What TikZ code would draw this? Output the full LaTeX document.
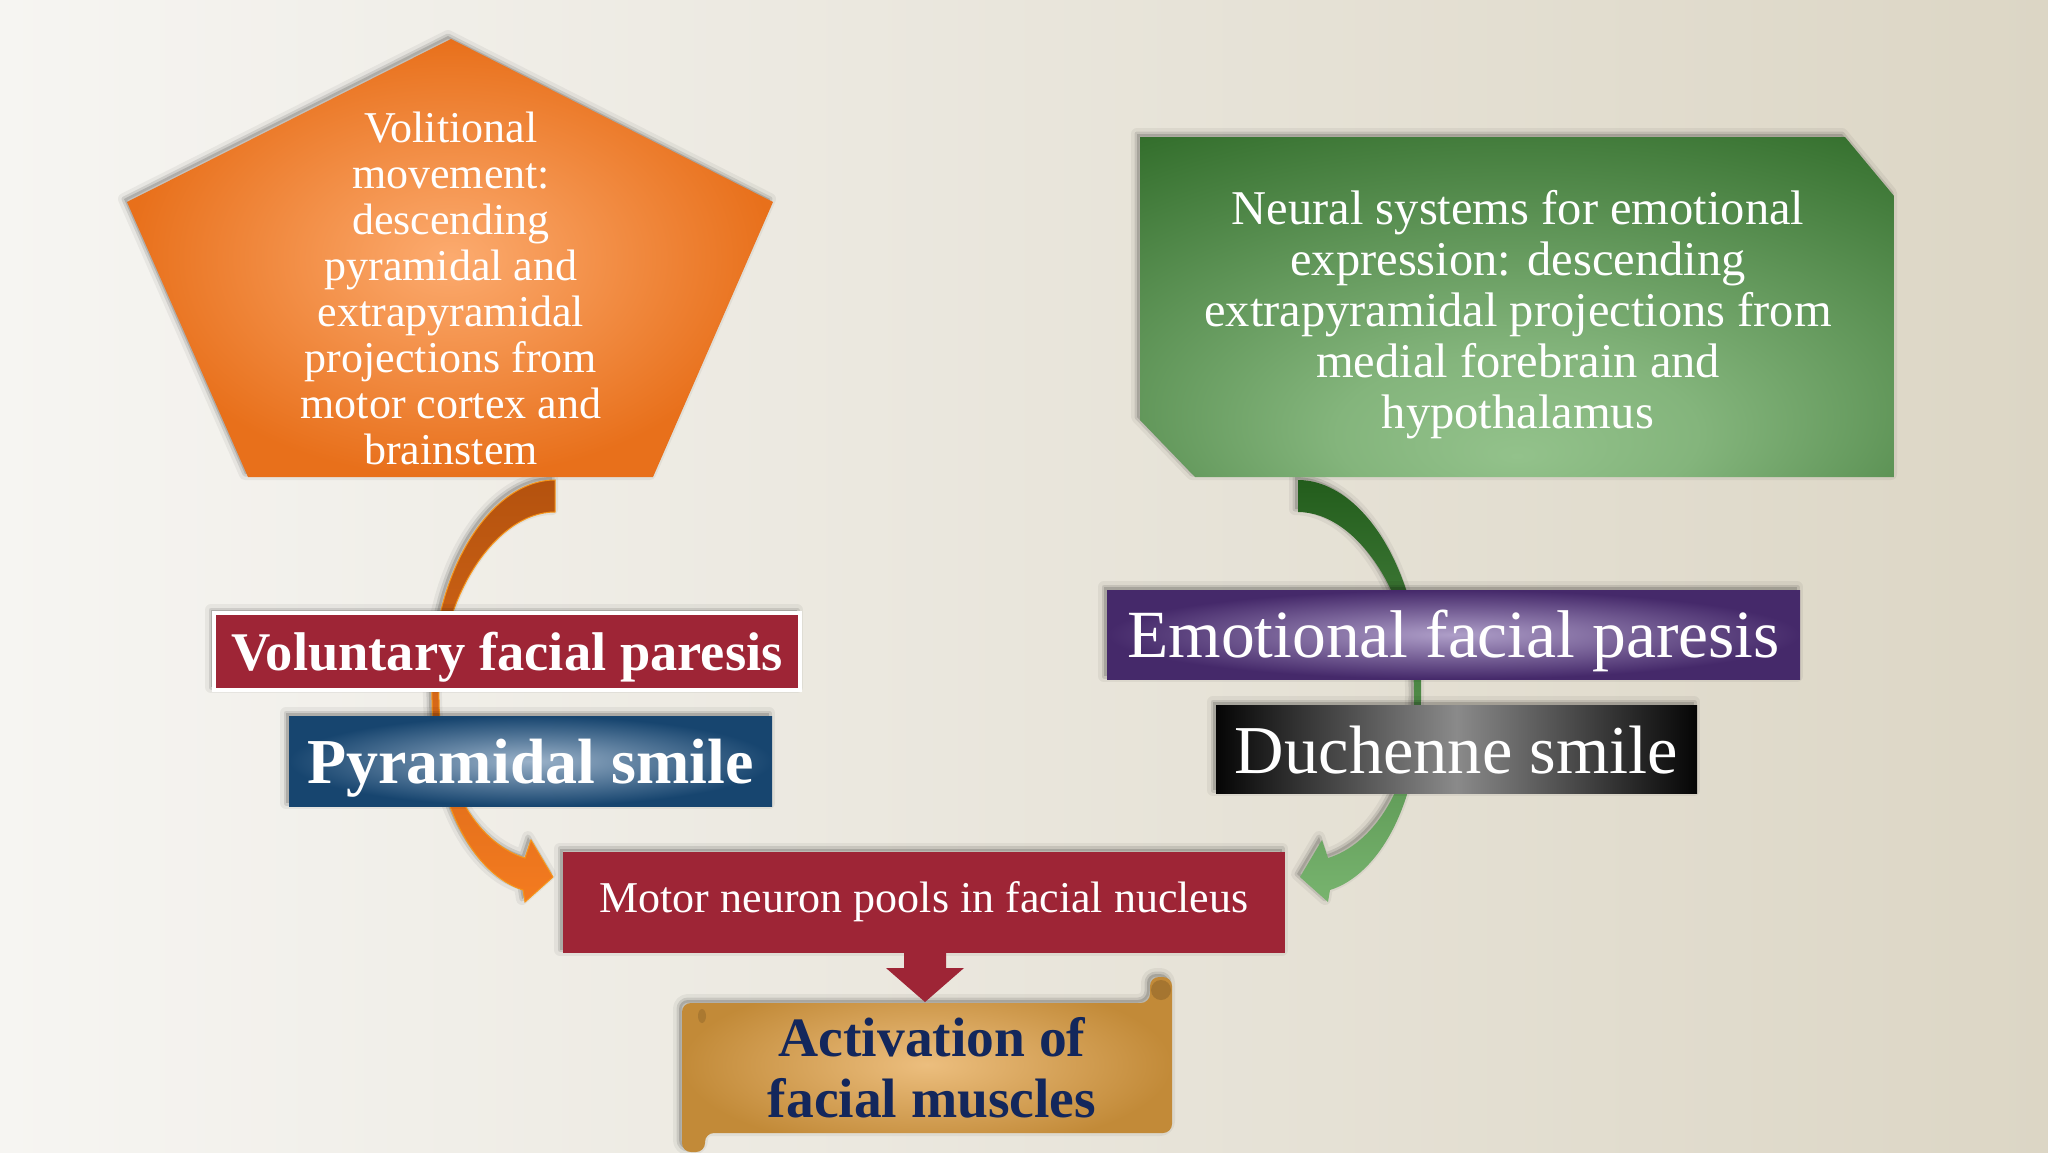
\documentclass[tikz,border=0pt]{standalone}
\usepackage{fontspec}
\setmainfont{Liberation Serif}

\definecolor{bgleft}{HTML}{F6F5F2}
\definecolor{bgright}{HTML}{DCD6C5}
\definecolor{orin}{HTML}{FCAB6F}
\definecolor{orout}{HTML}{E8701B}
\definecolor{grlight}{HTML}{93C28B}
\definecolor{grdark}{HTML}{2E6A27}
\definecolor{wine}{HTML}{9E2536}
\definecolor{blin}{HTML}{9BB2C9}
\definecolor{blout}{HTML}{17456F}
\definecolor{puin}{HTML}{AE9EC8}
\definecolor{puout}{HTML}{45296A}
\definecolor{bkin}{HTML}{8A8A8A}
\definecolor{bkout}{HTML}{050505}
\definecolor{goin}{HTML}{ECBE7E}
\definecolor{goout}{HTML}{C28A38}
\definecolor{navy}{HTML}{13275C}
\definecolor{artop}{HTML}{B4520E}
\definecolor{arbot}{HTML}{F47B20}
\definecolor{agtop}{HTML}{235D1C}
\definecolor{agbot}{HTML}{78B46F}

\pgfdeclareradialshading{greenshade}{\pgfpoint{0bp}{-22bp}}{color(0bp)=(grlight); color(12bp)=(grlight!85!grdark); color(45bp)=(grdark); color(80bp)=(grdark)}

\newcommand{\lowertext}[2]{\raisebox{-#1}[\height][\depth]{#2}}

\tikzset{
  softshadow/.style={
    preaction={fill=black, draw=black, line width=12pt, line join=round, opacity=0.05,
      transform canvas={shift={(-3pt,3pt)}}},
    preaction={fill=black, draw=black, line width=5pt, line join=round, opacity=0.10,
      transform canvas={shift={(-3pt,3pt)}}}},
  wtext/.style={text=white, align=center, inner sep=0pt},
  boxnode/.style={rectangle, inner sep=0pt, softshadow},
}

\begin{document}
\begin{tikzpicture}[x=1pt,y=-1pt]
% background
\path[left color=bgleft, right color=bgright] (0,0) rectangle (2048,1152);
\useasboundingbox (0,0) rectangle (2048,1152);

% orange curved arrow (behind boxes)
\coordinate (otop) at (555,496);
\coordinate (otip) at (553,877);
\path[softshadow, top color=artop, bottom color=arbot, draw=arbot!80!yellow, line width=1pt]
  (555,480) .. controls (490,480) and (428,575) .. (432,700)
  .. controls (433,805) and (475,875) .. (523,890)
  -- (525,902) -- (otip) -- (531,840) -- (525,858)
  .. controls (482,845) and (440,790) .. (439,700)
  .. controls (437,600) and (495,512) .. (555,512) -- cycle;

% green curved arrow (mirror)
\coordinate (gtop) at (1298,496);
\coordinate (gtip) at (1300,877);
\begin{scope}[xshift=1853pt, xscale=-1]
\path[softshadow, top color=agtop, bottom color=agbot]
  (555,480) .. controls (490,480) and (428,575) .. (432,700)
  .. controls (433,805) and (475,875) .. (523,890)
  -- (525,902) -- (553,877) -- (531,840) -- (525,858)
  .. controls (482,845) and (440,790) .. (439,700)
  .. controls (437,600) and (495,512) .. (555,512) -- cycle;
\end{scope}

% pentagon
\path[softshadow, inner color=orin, outer color=orout]
  (451,39) -- (773,202) -- (653,477) -- (248,477) -- (127,202) -- cycle;
\node[wtext, font=\fontsize{44}{46}\selectfont] (vol) at (451,288)
  {Volitional\\movement:\\descending\\pyramidal and\\extrapyramidal\\projections from\\motor cortex and\\brainstem};

% green box
\path[softshadow, shading=greenshade]
  (1140,137) -- (1845,137) -- (1894,196) -- (1894,477) -- (1195,477) -- (1140,420) -- cycle;
\node[wtext, font=\fontsize{48.5}{51}\selectfont] (neural) at (1518,315)
  {Neural systems for emotional\\expression: descending\\extrapyramidal projections from\\medial forebrain and\\hypothalamus};

% voluntary facial paresis
\node[boxnode, fill=wine, draw=white, line width=4pt, minimum width=586pt, minimum height=77pt,
  text=white, font=\bfseries\fontsize{54.5}{56}\selectfont] (volpar) at (507,651.5) {\lowertext{6pt}{Voluntary facial paresis}};

% pyramidal smile
\node[boxnode, inner color=blin, outer color=blout, minimum width=483pt, minimum height=90pt,
  text=white, font=\bfseries\fontsize{64}{66}\selectfont] (pyr) at (530.5,761) {\lowertext{7pt}{Pyramidal smile}};

% emotional facial paresis
\node[boxnode, inner color=puin, outer color=puout, minimum width=693pt, minimum height=89pt,
  text=white, font=\fontsize{67.5}{69}\selectfont] (emo) at (1453.5,634.5) {\lowertext{6pt}{Emotional facial paresis}};

% duchenne smile
\node[boxnode, left color=bkout, right color=bkout, middle color=bkin, minimum width=481pt, minimum height=88pt,
  text=white, font=\fontsize{68.5}{70}\selectfont] (duch) at (1456.5,749) {\lowertext{1pt}{Duchenne smile}};

% motor neuron box
\node[boxnode, fill=wine, minimum width=722pt, minimum height=101pt,
  text=white, font=\fontsize{44}{46}\selectfont] (motor) at (924,902) {Motor neuron pools in facial nucleus};

% scroll
\path[softshadow, inner color=goin, outer color=goout, rounded corners=9pt]
  (682,1003) -- (1150,1003) -- (1150,977) -- (1172,977) -- (1172,1133) -- (705,1133) -- (705,1152)
  -- (682,1152) -- cycle;
\fill[goout!80!black, opacity=0.6] (702,1016) ellipse (4pt and 7pt);
\fill[goout!85!black] (1161,990) circle (10pt);
\node[text=navy, align=center, font=\bfseries\fontsize{55.5}{61}\selectfont] (act) at (932,1068)
  {Activation of\\facial muscles};

% down arrow from motor box to scroll
\coordinate (dtip) at (925,1002);
\fill[wine] (904,952) -- (904,968) -- (886,968) -- (dtip) -- (964,968) -- (946,968) -- (946,952) -- cycle;
\end{tikzpicture}
\end{document}
